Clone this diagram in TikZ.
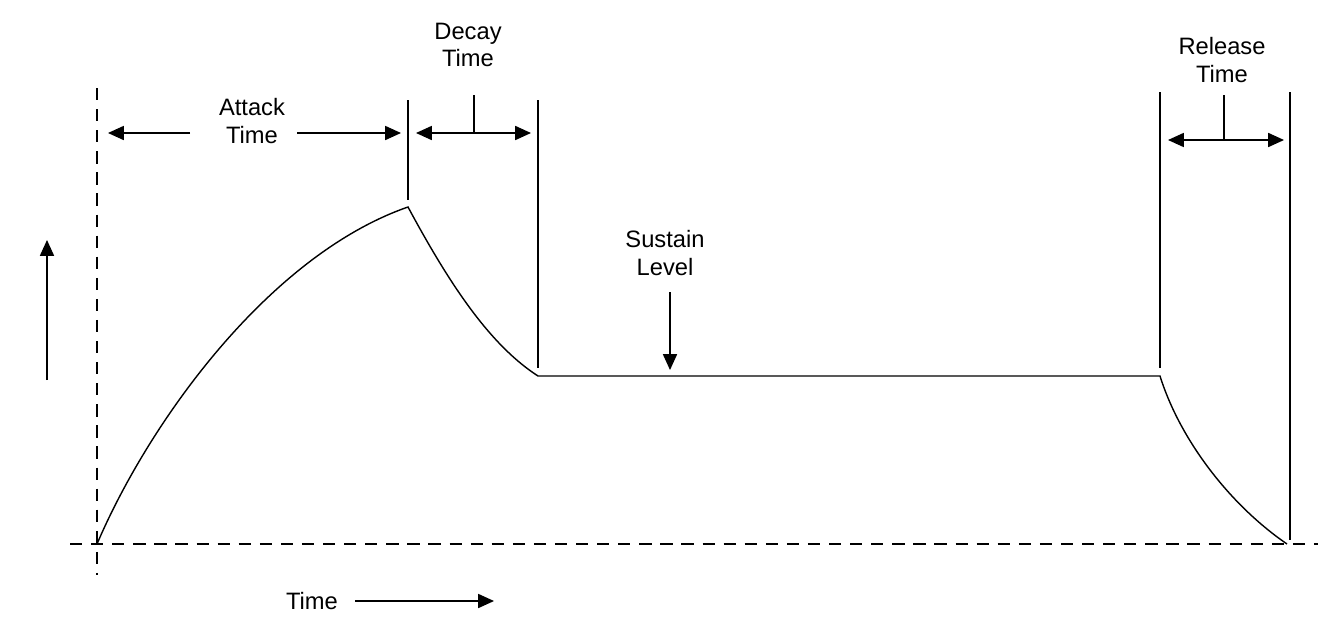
\documentclass[tikz,border=0pt]{standalone}
\usepackage{fontspec}
\setmainfont{Liberation Sans}
\usetikzlibrary{arrows.meta, positioning}

\begin{document}
\begin{tikzpicture}[x=0.02cm, y=-0.02cm,
    lbl/.style={align=center, font=\fontsize{13.5}{15.5}\selectfont},
    arrow/.style={-{Triangle[length=9pt, width=8pt]}, thick},
    darrow/.style={{Triangle[length=9pt, width=8pt]}-{Triangle[length=9pt, width=8pt]}, thick},
    guide/.style={thick},
    axis/.style={thick, dashed, dash pattern=on 7pt off 5pt}
]
    \useasboundingbox (0,0) rectangle (1341,619);

    % Envelope points
    \coordinate (start) at (97,544);
    \coordinate (peak) at (408,207);
    \coordinate (sus) at (538,376);
    \coordinate (rel) at (1160,376);
    \coordinate (stop) at (1287,544);

    % Axes
    \draw[axis] (70,544) -- (1318,544);
    \draw[axis] (97,88) -- (97,575);

    % Envelope
    \draw[thick] (start) .. controls (150,420) and (270,255) .. (peak)
        .. controls (450,285) and (490,345) .. (sus) -- (rel)
        .. controls (1180,440) and (1230,505) .. (stop);

    % Guide lines
    \draw[guide] (408,100) -- (408,200);
    \draw[guide] (538,100) -- (538,368);
    \draw[guide] (1160,92) -- (1160,368);
    \draw[guide] (1290,92) -- (1290,540);

    % Attack
    \node[lbl] (attack) at (252,121) {Attack\\Time};
    \coordinate (atkL) at (108,133);
    \coordinate (atkR) at (401,133);
    \draw[arrow] (190,133) -- (atkL);
    \draw[arrow] (297,133) -- (atkR);

    % Decay
    \node[lbl] (decay) at (468,45) {Decay\\Time};
    \draw[darrow] (416,133) -- (531,133);
    \draw[guide] (474,95) -- (474,133);

    % Release
    \node[lbl] (release) at (1222,60) {Release\\Time};
    \draw[darrow] (1168,140) -- (1284,140);
    \draw[guide] (1224,95) -- (1224,140);

    % Sustain
    \node[lbl] (sustain) at (665,253) {Sustain\\Level};
    \draw[arrow] (670,292) -- (670,370);

    % Level
    \draw[arrow] (47,380) -- (47,240);

    % Time
    \node[lbl] (time) at (312,601) {Time};
    \draw[arrow] (355,601) -- (494,601);
\end{tikzpicture}
\end{document}
